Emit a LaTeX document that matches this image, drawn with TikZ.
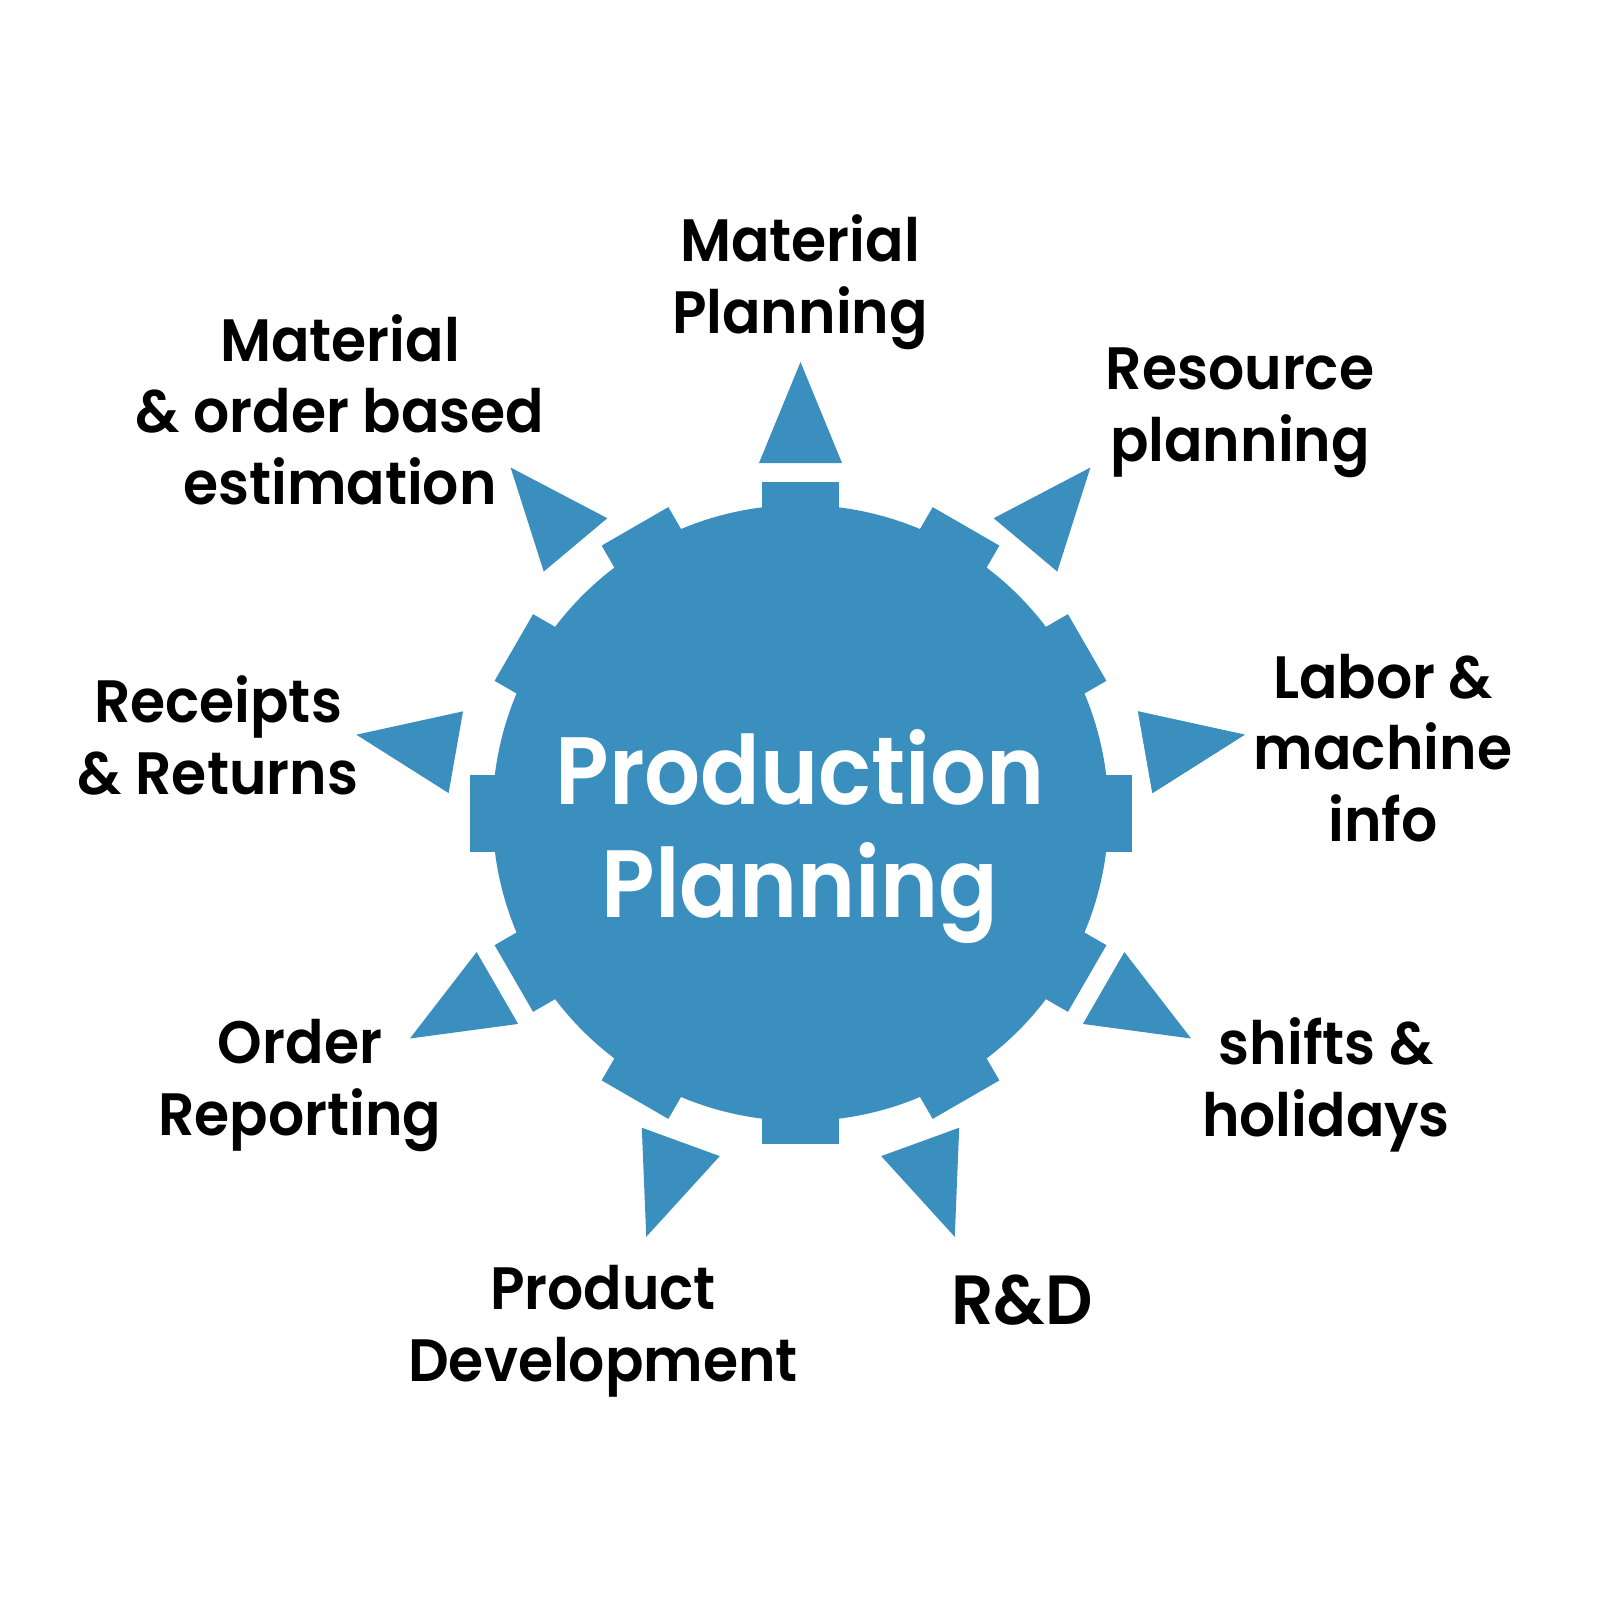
\documentclass[tikz,border=0pt]{standalone}
\usepackage{fontspec}
\setmainfont{Poppins}[BoldFont={Poppins SemiBold}, FakeStretch=0.95]
\newfontfamily\titlefont{Poppins}[BoldFont={Poppins SemiBold}, FakeStretch=0.92]
\usepackage{tikz}
\usetikzlibrary{calc, positioning}
\definecolor{gearblue}{RGB}{59,143,190}
\tikzstyle{label} = [align=center, anchor=base, inner sep=0pt, text=black, font=\bfseries\fontsize{17}{20.3}\selectfont]
\tikzstyle{title} = [align=center, anchor=base, inner sep=0pt, text=white, font=\titlefont\bfseries\fontsize{27.2}{31.9}\selectfont]
\tikzstyle{spike} = [fill=gearblue]
\tikzstyle{tooth} = [fill=gearblue]

\begin{document}
\begin{tikzpicture}[x=0.01cm, y=-0.01cm]
	\useasboundingbox (0,0) rectangle (1600,1600);
	\coordinate (Hub) at (800.5,813);
	% gear body and teeth
	\begin{scope}[shift={(Hub)}, x=0.01cm, y=0.01cm]
		\fill [gearblue] (0,0) circle (308);
		\foreach \a in {0,30,...,330}
			\fill [tooth, rotate=\a] (290,-38.5) rectangle (331,38.5);
		% outward spikes
		\foreach \a in {10,50,...,370}
			\fill [spike, rotate=\a] (350,-41.5) -- (451,0) -- (350,41.5) -- cycle;
	\end{scope}
	% anchor=base sits on the last line
	\node (Title) [title] at (800,917) {Production\\Planning};
	\node (MatPlan) [label] at (800,333) {Material\\Planning};
	\node (Estimation) [label] at (340,504) {Material\\\& order based\\estimation};
	\node (Resource) [label] at (1240,461) {Resource\\planning};
	\node (Labor) [label] at (1383,841) {Labor \&\\machine\\info};
	\node (Receipts) [label] at (218,794) {Receipts\\\& Returns};
	\node (Shifts) [label] at (1326,1136) {shifts \&\\holidays};
	\node (Order) [label] at (300,1135) {Order\\Reporting};
	\node (Product) [label] at (603,1381) {Product\\Development};
	\node (RD) [label, font=\bfseries\fontsize{19.8}{23}\selectfont] at (1022,1324) {R\&D};
\end{tikzpicture}
\end{document}
